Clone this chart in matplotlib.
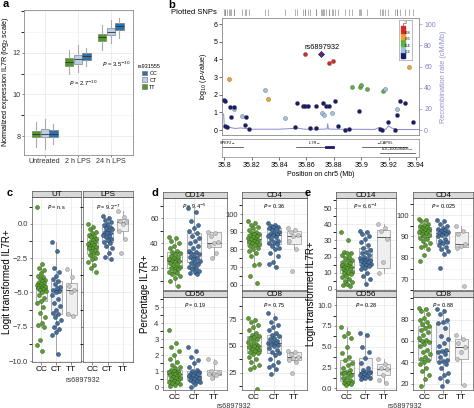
import matplotlib
matplotlib.use("Agg")
import matplotlib.pyplot as plt
import numpy as np
from matplotlib.patches import Patch, Rectangle
from matplotlib.ticker import AutoMinorLocator

plt.rcParams['font.family'] = ['Liberation Sans', 'DejaVu Sans']

# ---------------- panel a: expression boxes ----------------
a_groups = ['Untreated', '2 h LPS', '24 h LPS']
a_geno = ['TT', 'CT', 'CC']
# [whislo, q1, med, q3, whishi] per genotype (TT, CT, CC) per condition
a_untreated = [[7.48, 7.96, 8.10, 8.25, 8.68], [7.39, 7.94, 8.12, 8.34, 8.83], [7.60, 7.97, 8.12, 8.29, 8.60]]
a_lps2 = [[11.00, 11.38, 11.55, 11.73, 12.13], [11.08, 11.46, 11.70, 11.89, 12.37], [11.38, 11.67, 11.85, 12.00, 12.23]]
a_lps24 = [[12.13, 12.58, 12.73, 12.88, 13.34], [12.45, 12.83, 13.00, 13.18, 13.57], [12.69, 13.10, 13.27, 13.42, 13.65]]
a_pvals = [r'$P$ = 2.7$^{-10}$', r'$P$ = 3.5$^{-30}$']

# ---------------- panel b: locus zoom ----------------
snp_pos = [35.7995, 35.8007, 35.8007, 35.8022, 35.8031, 35.8042, 35.8049, 35.8068, 35.8073, 35.8129,
           35.8148, 35.8160, 35.8177, 35.8299, 35.8316, 35.8445, 35.8518, 35.8530, 35.8574, 35.8591,
           35.8591, 35.8608, 35.8627, 35.8669, 35.8669, 35.8703, 35.8712, 35.8720, 35.8730, 35.8744,
           35.8761, 35.8768, 35.8788, 35.8790, 35.8805, 35.8827, 35.8883, 35.8914, 35.8931, 35.8980,
           35.8992, 35.8999, 35.9041, 35.9138, 35.9155, 35.9158, 35.9177, 35.9194, 35.9247, 35.9260,
           35.9260, 35.9284, 35.9322, 35.9347, 35.9381]
snp_logp = [1.70, 1.66, 0.23, 0.16, 2.89, 1.28, 0.72, 1.17, 1.28, 0.79,
            0.28, 0.72, 0.04, 2.26, 1.74, 0.70, 0.19, 1.55, 1.38, 1.38,
            4.28, 1.38, 0.13, 1.38, 0.13, 4.28, 0.94, 1.55, 0.85, 1.38,
            1.38, 3.81, 0.94, 3.92, 1.64, 0.24, 0.02, 0.06, 2.45, 1.09,
            2.45, 2.56, 2.30, 0.04, 0.02, 2.22, 2.34, 0.47, 0.02, 1.17,
            0.85, 1.66, 1.51, 3.55, 0.47]
snp_r2 = [0.1, 0.1, 0.1, 0.1, 0.7, 0.1, 0.1, 0.3, 0.1, 0.3,
          0.1, 0.1, 0.1, 0.3, 0.7, 0.3, 0.1, 0.1, 0.1, 0.1,
          0.9, 0.1, 0.1, 0.1, 0.1, 1.0, 0.3, 0.1, 0.3, 0.1,
          0.1, 0.9, 0.3, 0.9, 0.1, 0.1, 0.1, 0.1, 0.5, 0.1,
          0.5, 0.5, 0.5, 0.1, 0.1, 0.5, 0.3, 0.1, 0.1, 0.3,
          0.1, 0.1, 0.1, 0.7, 0.1]
index_snp = 'rs6897932'
rec_pos = [35.7985, 35.7995, 35.8000, 35.8010, 35.8040, 35.8080, 35.8120, 35.8200, 35.8400, 35.8500,
           35.8540, 35.8580, 35.8700, 35.8750, 35.8755, 35.8760, 35.8800, 35.8900, 35.9100, 35.9130,
           35.9150, 35.9180, 35.9200, 35.9220, 35.9260, 35.9350, 35.9424]
rec_rate = [15, 15, 3, 1.5, 2.5, 1.5, 2, 0.8, 0.8, 1.5,
            1.8, 0.8, 0.8, 1, 6, 1, 0.8, 0.8, 0.6, 2.5,
            0.5, 0.8, 4, 2, 0.5, 0.5, 0.5]
gene_names = ['SPEF2\u2192', 'IL7R\u2192', '\u2190CAPSL', 'LOC100506406\u2192']
gene_start = [35.7985, 35.8525, 35.9007, 35.9138]
gene_end = [35.8139, 35.8795, 35.9335, 35.9393]

# ---------------- panel c ----------------
c_ut_cc = [1.2, -2.9, -3.2, -3.4, -3.6, -3.8, -3.9, -4.0, -4.1, -4.2, -4.3, -4.35, -4.4, -4.45, -4.5, -4.55,
           -4.6, -4.65, -4.7, -4.75, -4.8, -4.9, -5.0, -5.2, -5.4, -5.6, -5.8, -6.1, -6.5, -6.8, -7.2, -7.4,
           -7.5, -8.5, -8.8, -9.3]
c_ut_ct = [-1.3, -2.0, -3.2, -3.5, -3.8, -4.0, -4.2, -4.4, -4.6, -4.7, -4.8, -4.9, -5.0, -5.2, -5.5, -5.8,
           -6.0, -6.3, -6.5, -6.6, -6.8, -7.0, -7.2, -7.5, -7.7, -7.9, -8.1, -9.5]
c_ut_tt = [-3.3, -3.9, -4.5, -4.8, -5.0, -6.6, -6.7]
c_lps_cc = [0.0, -0.2, -0.4, -0.6, -0.7, -0.8, -0.9, -1.0, -1.1, -1.2, -1.3, -1.35, -1.4, -1.5, -1.55, -1.6,
            -1.7, -1.75, -1.8, -1.9, -2.0, -2.1, -2.2, -2.3, -2.5, -2.6, -2.8, -3.0, -3.2, -3.5]
c_lps_ct = [0.6, 0.4, 0.3, 0.1, 0.0, -0.1, -0.2, -0.3, -0.4, -0.5, -0.6, -0.65, -0.7, -0.8, -0.9, -1.0,
            -1.1, -1.2, -1.3, -1.4, -1.6, -1.8, -2.1, -2.4, -2.6]
c_lps_tt = [0.9, 0.5, 0.2, 0.12, 0.0, -0.5, -1.1, -2.1]
c_ut_box = [[-7.5, -5.63, -4.69, -4.44, -2.9], [-9.5, -6.54, -4.81, -4.15, -1.3], [-6.7, -6.67, -4.81, -4.32, -3.3]]
c_lps_box = [[-3.5, -2.22, -1.60, -0.99, 0.0], [-2.6, -1.36, -0.69, -0.25, 0.6], [-1.1, -0.50, 0.12, 0.32, 0.9]]

# ---------------- panel d ----------------
d_cd14_cc = [45, 44, 42, 40, 38, 36, 34, 33, 32, 31, 30, 29, 28, 27, 26.5, 26, 25.5, 25, 24, 23, 22, 21,
             20.5, 20, 19, 18, 17, 16, 15, 14, 12, 10, 6]
d_cd14_ct = [68, 65, 58, 55, 52, 50, 48, 46, 44, 42, 40, 38, 36, 34, 33, 32, 31, 30, 29, 28, 27, 26, 25,
             24, 23, 22, 21, 20, 19, 18, 17, 16, 15]
d_cd14_tt = [49, 48, 46, 41, 40, 38, 32, 28]
d_cd14_box = [[6, 20, 26, 33, 45], [15, 25.3, 32, 48, 68], [28, 37.3, 40.5, 48.8, 49]]
d_cd4_cc = [96, 95, 94, 93, 92, 91, 90, 89.5, 89, 88.5, 88, 87.5, 87, 86.5, 86, 86, 85.5, 85, 84.5, 84,
            83.5, 83, 82.5, 82, 81, 80, 79, 78, 76, 72, 71, 65, 61]
d_cd4_ct = [95, 94, 93.5, 93, 92.5, 92, 91.5, 91, 90, 89.5, 89, 88.5, 88, 87.5, 87, 86, 85, 84, 83.5, 83,
            82, 81, 80, 78, 76, 73, 72, 70]
d_cd4_tt = [92, 91, 90, 88, 87.5, 85, 80, 67.5]
d_cd4_box = [[72, 82, 86, 88.5, 96], [70, 83, 88, 92, 95], [80, 83, 87.5, 90.5, 92]]
d_cd56_cc = [3.6, 2.8, 2.5, 2.3, 2.0, 1.8, 1.6, 1.4, 1.3, 1.2, 1.1, 1.05, 1.0, 0.95, 0.9, 0.85, 0.8, 0.8,
             0.75, 0.7, 0.65, 0.6, 0.55, 0.5, 0.45, 0.4, 0.35, 0.3, 0.25, 0.2, 0.15, 0.1]
d_cd56_ct = [2.5, 2.3, 1.9, 1.7, 1.5, 1.3, 1.1, 1.0, 0.95, 0.9, 0.85, 0.8, 0.75, 0.7, 0.65, 0.6, 0.55, 0.5,
             0.45, 0.4, 0.35, 0.3, 0.2, 0.0]
d_cd56_tt = [1.8, 1.6, 1.0, 0.9, 0.82, 0.8, 0.75, 0.6]
d_cd56_box = [[0.1, 0.45, 0.8, 1.1, 2.0], [0.0, 0.45, 0.7, 1.0, 1.9], [0.5, 0.75, 0.82, 1.1, 1.8]]
d_cd8_cc = [76, 74, 72, 70, 68, 65, 62, 60, 59, 58, 57, 56, 55, 54, 52, 51, 50, 50, 49, 48, 47, 46, 45,
            44, 43, 42, 40, 38, 35, 32, 30, 28, 10]
d_cd8_ct = [81, 76, 72, 70, 68, 65, 62, 60, 59, 57, 56, 55, 54, 53, 52.5, 52, 51, 50, 48, 46, 44, 43, 41,
            38, 35, 32, 30, 28, 24]
d_cd8_tt = [45, 44, 42, 40, 39, 37, 35, 25]
d_cd8_box = [[28, 43, 50, 59, 76], [24, 43, 52.5, 60, 81], [35, 37, 40, 44, 45]]

# ---------------- panel e ----------------
e_cd14_cc = [35, 30, 23, 22.5, 22, 21, 20, 19, 18, 17, 16.5, 16, 15, 14.5, 14, 13.8, 13.5, 13, 12.5, 12,
             11, 10.5, 10, 9.5, 9, 8, 7, 6, 5, 4, 3, 2, 1.5]
e_cd14_ct = [36, 35, 34, 33, 31, 29, 27, 25, 24, 23, 22, 21, 20, 19, 18.5, 18, 17.8, 17.5, 17, 16.5, 16,
             15.5, 15, 14.5, 14, 13, 12, 10, 8, 6, 3]
e_cd14_tt = [40, 38, 36, 31, 16.5, 9.6]
e_cd14_box = [[1.5, 9.8, 13.8, 17.2, 23], [3, 14.8, 17.8, 25.1, 36], [9.6, 12.8, 32.2, 36.5, 40]]
e_cd4_cc = [98, 97.5, 97, 96, 95.5, 95, 94.5, 94, 93.5, 93, 92.8, 92.5, 92.2, 92, 91.5, 91, 90.5, 90,
            89.5, 89, 88, 87, 86, 85, 84, 81.5, 78.5]
e_cd4_ct = [97.5, 97, 96, 95, 94, 93.5, 93, 92.5, 92, 91.8, 91.5, 91, 90.5, 90, 89, 88, 87.5, 87, 86, 85,
            84, 83, 82, 75.5]
e_cd4_tt = [95, 92.5, 91, 86.4, 85.5, 84.5, 67]
e_cd4_box = [[84, 89.9, 92.7, 94.3, 98], [82, 86.8, 91.5, 93.3, 97.5], [84.5, 85, 86.4, 92.2, 95]]
e_cd56_cc = [7.4, 6.6, 6.3, 6.0, 5.0, 4.3, 3.8, 3.4, 3.1, 2.8, 2.5, 2.2, 2.0, 1.9, 1.87, 1.8, 1.6, 1.4,
             1.2, 1.0, 0.9, 0.8, 0.7, 0.6, 0.5, 0.4]
e_cd56_ct = [6.7, 6.4, 5.0, 4.4, 3.6, 3.0, 2.5, 2.2, 2.0, 1.95, 1.9, 1.8, 1.7, 1.6, 1.5, 1.4, 1.3, 1.2, 1.1]
e_cd56_tt = [3.5, 2.9, 2.5, 2.3, 1.6, 1.0, 0.6]
e_cd56_box = [[0.4, 0.87, 1.87, 3.37, 7.4], [1.1, 1.5, 1.95, 3.6, 6.7], [0.6, 1.6, 2.3, 2.9, 3.5]]
e_cd8_cc = [91, 90, 88, 85, 82, 80, 78, 76, 74, 72, 70, 68, 66, 63, 61, 60, 59, 57, 55, 52, 50, 48, 45,
            43, 42, 40, 38, 35, 32, 28, 24, 18]
e_cd8_ct = [90, 88, 85, 80, 78, 77, 72, 65, 62, 58, 55, 52, 51, 50, 48, 45, 42, 41, 40, 38, 35, 30, 28,
            25, 22, 18]
e_cd8_tt = [66, 62, 58, 54, 50, 43, 19]
e_cd8_box = [[18, 42, 59.8, 74.5, 91], [18, 41, 51, 77, 90], [19, 42.7, 54, 62, 66]]

genotypes = ['CC', 'CT', 'TT']

W, H = 474, 408
fig = plt.figure(figsize=(W / 100, H / 100), dpi=100)


def rect(x0, y0, x1, y1):
    return [x0 / W, 1 - y1 / H, (x1 - x0) / W, (y1 - y0) / H]


def ftext(x, y, s, **kw):
    fig.text(x / W, 1 - y / H, s, **kw)


def to_stats(box):
    return [dict(whislo=b[0], q1=b[1], med=b[2], q3=b[3], whishi=b[4]) for b in box]


# ---------------- a ----------------
ax = fig.add_axes(rect(24, 10, 133.3, 155))
a_cols = ['#4c9a22', '#b9cfe6', '#2f70ae']
offs = [-0.27, 0.0, 0.26]
for gi, cond in enumerate([a_untreated, a_lps2, a_lps24]):
    for k in range(3):
        ax.bxp(to_stats([cond[k]]), positions=[gi + 1 + offs[k]], widths=0.25, patch_artist=True,
               showfliers=False, boxprops=dict(facecolor=a_cols[k], edgecolor='#6b6b6b', lw=0.4),
               medianprops=dict(color='#333333', lw=0.6), whiskerprops=dict(color='#aaaaaa', lw=0.8),
               capprops=dict(lw=0), manage_ticks=False)
ax.set_xlim(0.37, 3.68)
ax.set_ylim(7.09, 14.05)
ax.set_xticks([1, 2, 3])
ax.set_xticklabels(a_groups)
ax.set_yticks([8, 10, 12])
ax.yaxis.set_minor_locator(AutoMinorLocator(2))
ax.grid(True, which='major', color='#e6e6e6', lw=0.5)
ax.grid(True, which='minor', axis='y', color='#f2f2f2', lw=0.4)
ax.set_axisbelow(True)
for s in ax.spines.values():
    s.set_color('#8c8c8c')
    s.set_linewidth(0.6)
ax.tick_params(labelsize=5.2, length=1.5, width=0.4, pad=1, colors='#333333')
ftext(5.5, 82, r'Normalized expression IL7R (log$_2$ scale)', fontsize=5.2, ha='center', va='center',
      rotation=90)
ax.text(2.18, 10.55, a_pvals[0], fontsize=4.2, ha='center', va='center')
ax.text(3.18, 11.42, a_pvals[1], fontsize=4.2, ha='center', va='center')
handles = [Patch(facecolor=a_cols[2], edgecolor='#6b6b6b', lw=0.4, label='CC'),
           Patch(facecolor=a_cols[1], edgecolor='#6b6b6b', lw=0.4, label='CT'),
           Patch(facecolor=a_cols[0], edgecolor='#6b6b6b', lw=0.4, label='TT')]
fig.legend(handles=handles, title='rs931555', loc='upper left', bbox_to_anchor=(134 / W, 1 - 60 / H),
           frameon=False, fontsize=4, title_fontsize=4, handlelength=1.0, handleheight=0.9,
           handletextpad=0.4, labelspacing=0.3, borderpad=0.2)

# ---------------- b ----------------
bx0, bx1 = 222.3, 419.3
xl = (35.7985, 35.9424)
ax = fig.add_axes(rect(bx0, 18, bx1, 135))


def r2_color(r):
    if r >= 0.8:
        return '#d42a2a'
    if r >= 0.6:
        return '#f0a030'
    if r >= 0.4:
        return '#5cae46'
    if r >= 0.2:
        return '#9cc3e0'
    return '#1b1b6b'


ax2 = ax.twinx()
ax2.plot(rec_pos, rec_rate, color='#8a8ad0', lw=0.7)
ax2.set_ylim(-0.28 * 16.7, 6.34 * 16.7)
ax2.set_yticks([0, 20, 40, 60, 80, 100])
ax2.tick_params(labelsize=5, length=2, width=0.4, pad=1.5, colors='#8080c8')
ax2.set_ylabel('Recombination rate (cM/Mb)', fontsize=5.3, color='#9090d0', labelpad=3)
for s in ax2.spines.values():
    s.set_visible(False)

cols = [r2_color(r) for r in snp_r2]
for p, l, r, c in zip(snp_pos, snp_logp, snp_r2, cols):
    if r >= 1.0:
        ax.scatter(p, l, s=10, marker='D', color='#5a2a8a', edgecolor='k', lw=0.3, zorder=4)
        ax.text(p - 0.0115, l + 0.2, index_snp, fontsize=5.3, ha='left', va='bottom')
    else:
        ax.scatter(p, l, s=9, color=c, edgecolor='#444444', lw=0.2, zorder=3)
ax.set_zorder(ax2.get_zorder() + 1)
ax.patch.set_visible(False)
ax.set_xlim(*xl)
ax.set_ylim(-0.28, 6.34)
ax.set_yticks(range(7))
ax.set_xticks([])
ax.tick_params(labelsize=5, length=2, width=0.4, pad=1.5)
ax.set_ylabel(r'log$_{10}$ ($p$-value)', fontsize=5, labelpad=3)
for s in ax.spines.values():
    s.set_color('#888888')
    s.set_linewidth(0.6)

# r2 legend
lax = fig.add_axes(rect(399, 20, 411.5, 60))
lax.set_xlim(0, 1)
lax.set_ylim(0, 1)
lax.set_xticks([])
lax.set_yticks([])
for s in lax.spines.values():
    s.set_color('#888888')
    s.set_linewidth(0.4)
leg_cols = ['#1b1b6b', '#9cc3e0', '#5cae46', '#f0a030', '#d42a2a']
for i, c in enumerate(leg_cols):
    lax.add_patch(Rectangle((0.12, 0.04 + i * 0.16), 0.32, 0.16, color=c))
for i, lab in enumerate(['0.2', '0.4', '0.6', '0.8']):
    lax.text(0.5, 0.04 + (i + 1) * 0.16, lab, fontsize=3, va='center', ha='left')
lax.text(0.2, 0.9, r'$r^2$', fontsize=3.3, va='center', ha='left')

# plotted SNPs track
tax = fig.add_axes(rect(bx0, 9, bx1, 16))
tax.vlines(snp_pos, 0, 1, color='#777777', lw=0.4)
tax.set_xlim(*xl)
tax.set_ylim(0, 1)
tax.axis('off')
ftext(217, 12.5, 'Plotted SNPs', fontsize=5.5, ha='right', va='center')

# gene track
gax = fig.add_axes(rect(bx0, 139, bx1, 157))
for i, (g, s0, s1) in enumerate(zip(gene_names, gene_start, gene_end)):
    yy = 0.55 if i < 3 else 0.2
    gax.plot([s0, s1], [yy, yy], color='#333333', lw=0.5)
    gax.text((s0 + s1) / 2 if i != 0 else s0 + 0.004, yy + 0.12, g, fontsize=2.8, ha='center', va='bottom')
gax.plot([35.8745, 35.8795], [0.55, 0.55], color='#1b1b6b', lw=2)
gax.set_xlim(*xl)
gax.set_ylim(0, 1)
gax.set_yticks([])
gax.set_xticks([35.8, 35.82, 35.84, 35.86, 35.88, 35.9, 35.92, 35.94])
gax.set_xticklabels(['35.8', '35.82', '35.84', '35.86', '35.88', '35.9', '35.92', '35.94'])
gax.tick_params(labelsize=5, length=2, width=0.4, pad=1.5)
for s in gax.spines.values():
    s.set_color('#888888')
    s.set_linewidth(0.5)
gax.set_xlabel('Position on chr5 (Mb)', fontsize=5, labelpad=1.5)

# ---------------- facet helper ----------------
pt_face = ['#5c9e34', '#46709c', '#c8c8c8']
pt_edge = ['#2f5a16', '#213a5c', '#888888']


def jitter(n):
    return ((np.arange(n) * 0.618034) % 1 - 0.5) * 0.6


def facet(x0, y0, x1, y1, title, groups, box, ylim, yticks, ptxt, show_x, show_y=True, xlim=(0.4, 3.65)):
    ax = fig.add_axes(rect(x0, y0, x1, y1))
    ax.bxp(to_stats(box), positions=[1, 2, 3], widths=0.72, patch_artist=True, showfliers=False,
           boxprops=dict(facecolor='#eeeeee', edgecolor='#8a8a8a', lw=0.5, alpha=0.9),
           medianprops=dict(color='#555555', lw=0.7), whiskerprops=dict(color='#8a8a8a', lw=0.5),
           capprops=dict(lw=0), manage_ticks=False, zorder=2)
    for k, vals in enumerate(groups):
        xs = k + 1 + jitter(len(vals))
        ax.scatter(xs, vals, s=8, color=pt_face[k], edgecolor=pt_edge[k], lw=0.35, zorder=3)
    ax.set_xlim(*xlim)
    ax.set_ylim(*ylim)
    ax.set_xticks([1, 2, 3])
    ax.set_xticklabels(genotypes if show_x else [])
    ax.set_yticks(yticks)
    if not show_y:
        ax.set_yticklabels([])
    ax.yaxis.set_minor_locator(AutoMinorLocator(2))
    ax.grid(True, which='major', color='#e8e8e8', lw=0.5)
    ax.grid(True, which='minor', axis='y', color='#f3f3f3', lw=0.4)
    ax.set_axisbelow(True)
    ax.tick_params(labelsize=5.5, length=1.8, width=0.4, pad=1.2, colors='#333333')
    ax.tick_params(axis='x', labelcolor='black', labelsize=6)
    for s in ax.spines.values():
        s.set_color('#555555')
        s.set_linewidth(0.5)
    sax = fig.add_axes(rect(x0, y0 - 6, x1, y0))
    sax.set_facecolor('#d9d9d9')
    sax.set_xticks([])
    sax.set_yticks([])
    for s in sax.spines.values():
        s.set_color('#555555')
        s.set_linewidth(0.5)
    sax.text(0.5, 0.45, title, fontsize=5.8, ha='center', va='center', transform=sax.transAxes)
    ax.text(0.5, 0.965, ptxt, fontsize=4, ha='center', va='top', transform=ax.transAxes)
    return ax


# ---------------- c ----------------
facet(32.3, 197, 81, 361.7, 'UT', [c_ut_cc, c_ut_ct, c_ut_tt], c_ut_box, (-10.05, 1.95),
      [0, -2.5, -5, -7.5, -10], r'$P$ = n.s.', True)
facet(83.3, 197, 132.7, 361.7, 'LPS', [c_lps_cc, c_lps_ct, c_lps_tt], c_lps_box, (-10.05, 1.95),
      [0, -2.5, -5, -7.5, -10], r'$P$ = 9.2$^{-7}$', True, show_y=False)
ftext(82.5, 381, 'rs6897932', fontsize=5.2, ha='center', va='center', color='#333333')
ftext(7, 282, 'Logit transformed IL7R+', fontsize=7, ha='center', va='center', rotation=90)

# ---------------- d ----------------
facet(162.7, 198.3, 226.7, 290, 'CD14', [d_cd14_cc, d_cd14_ct, d_cd14_tt], d_cd14_box, (2.5, 76),
      [20, 40, 60], r'$P$ = 9.4$^{-5}$', False)
facet(241.7, 198.3, 306.7, 290, 'CD4', [d_cd4_cc, d_cd4_ct, d_cd4_tt], d_cd4_box, (57, 109),
      [60, 70, 80, 90, 100], r'$P$ = 0.36', False)
facet(162.7, 297.3, 226.7, 390, 'CD56', [d_cd56_cc, d_cd56_ct, d_cd56_tt], d_cd56_box, (-0.17, 5.63),
      [0, 1, 2, 3, 4, 5], r'$P$ = 0.19', True)
facet(241.7, 297.3, 306.7, 390, 'CD8', [d_cd8_cc, d_cd8_ct, d_cd8_tt], d_cd8_box, (8.6, 95.5),
      [25, 50, 75], r'$P$ = 0.75', True)
ftext(234, 406, 'rs6897932', fontsize=5.2, ha='center', va='center', color='#333333')
ftext(145, 294, 'Percentage IL7R+', fontsize=7, ha='center', va='center', rotation=90)

# ---------------- e ----------------
facet(336, 198.3, 395.5, 290, 'CD14', [e_cd14_cc, e_cd14_ct, e_cd14_tt], e_cd14_box, (-0.8, 56.2),
      [0, 10, 20, 30, 40, 50], r'$P$ = 6.6$^{-4}$', False)
facet(413.3, 198.3, 473.3, 290, 'CD4', [e_cd4_cc, e_cd4_ct, e_cd4_tt], e_cd4_box, (65, 107.8),
      [70, 80, 90, 100], r'$P$ = 0.025', False)
facet(336, 297.3, 395.5, 390, 'CD56', [e_cd56_cc, e_cd56_ct, e_cd56_tt], e_cd56_box, (-0.2, 10.95),
      [0, 2.5, 5, 7.5, 10], r'$P$ = 0.28', True)
facet(413.3, 297.3, 473.3, 390, 'CD8', [e_cd8_cc, e_cd8_ct, e_cd8_tt], e_cd8_box, (14, 101),
      [20, 40, 60, 80], r'$P$ = 0.88', True)
ftext(405, 406, 'rs6897932', fontsize=5.2, ha='center', va='center', color='#333333')
ftext(311, 294, 'Logit transformed IL7R+', fontsize=7, ha='center', va='center', rotation=90)

# panel letters
ftext(3, 4, 'a', fontsize=8, fontweight='bold', va='center')
ftext(168, 5, 'b', fontsize=8, fontweight='bold', va='center')
ftext(7, 193, 'c', fontsize=8, fontweight='bold', va='center')
ftext(152, 193, 'd', fontsize=8, fontweight='bold', va='center')
ftext(305, 193, 'e', fontsize=8, fontweight='bold', va='center')

fig.savefig('out.png', dpi=100)
